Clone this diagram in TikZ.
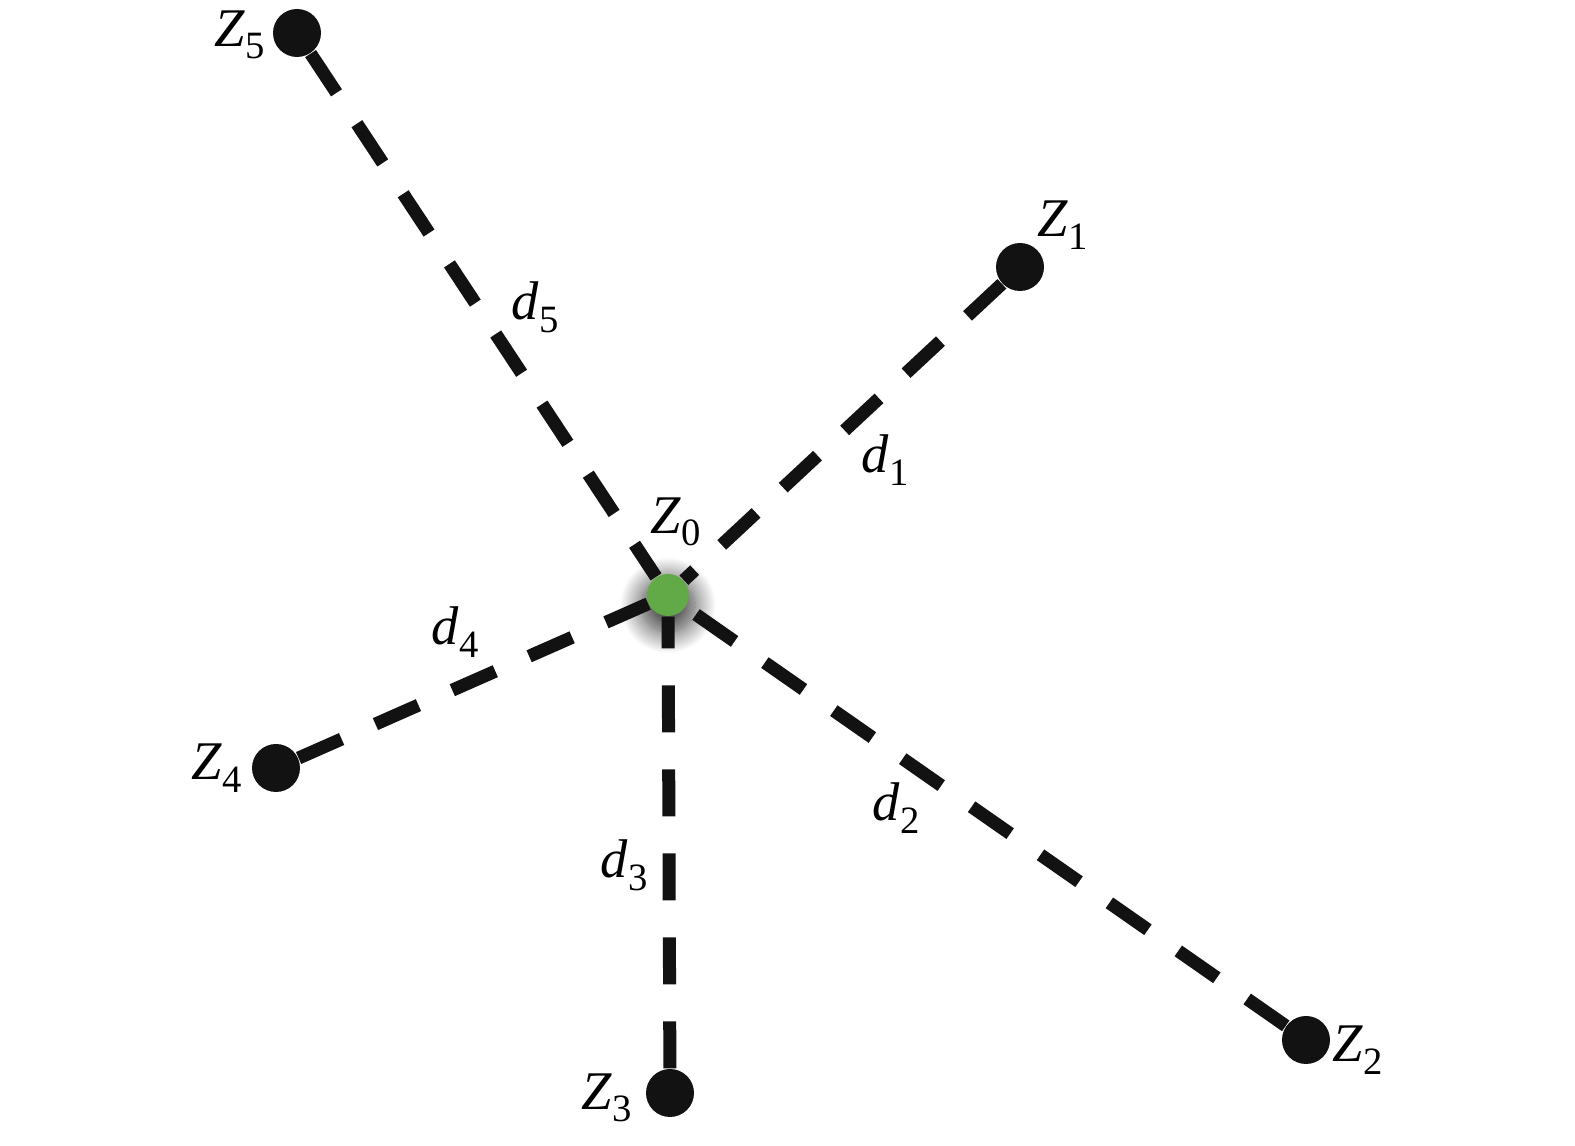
\documentclass[tikz,border=0pt]{standalone}
\usepackage{fontspec}
\setmainfont{Liberation Serif}
\usetikzlibrary{shadows.blur}
\definecolor{zgreen}{RGB}{98,170,72}
\newcommand{\pnt}[2]{\textit{#1}\raisebox{-3.6pt}{\fontsize{11}{11}\selectfont #2}}
\begin{document}
\begin{tikzpicture}[
  pt/.style={circle,fill=black!93,inner sep=0pt,minimum size=0.48cm},
  link/.style={line width=0.13cm,color=black!93,dash pattern=on 0.47cm off 0.37cm},
  lbl/.style={font=\fontsize{15.5}{18}\selectfont,inner sep=0pt}]
\useasboundingbox (0,0) rectangle (15.75,11.46);
% end points
\node[pt](z1) at (10.20,8.79){};
\node[pt](z2) at (13.06,1.06){};
\node[pt](z3) at (6.70,0.53){};
\node[pt](z4) at (2.76,3.78){};
\node[pt](z5) at (2.97,11.13){};
\node[circle,fill=zgreen,inner sep=0pt,minimum size=0.42cm,
  blur shadow={shadow xshift=0pt,shadow yshift=-0.08cm,shadow scale=1.3,
  shadow blur radius=0.16cm,shadow blur steps=20,shadow opacity=75}](z0) at (6.68,5.51){};
% distances
\draw[link](z1)--(z0);
\draw[link](z2)--(z0);
\draw[link](z3)--(z0);
\draw[link](z4)--(z0);
\draw[link](z5)--(z0);
% labels
\node[lbl](lz0) at (6.76,6.24){\pnt{Z}{0}};
\node[lbl](lz1) at (10.63,9.21){\pnt{Z}{1}};
\node[lbl](lz2) at (13.58,0.96){\pnt{Z}{2}};
\node[lbl](lz3) at (6.07,0.48){\pnt{Z}{3}};
\node[lbl](lz4) at (2.17,3.78){\pnt{Z}{4}};
\node[lbl](lz5) at (2.40,11.11){\pnt{Z}{5}};
\node[lbl](ld1) at (8.85,6.86){\pnt{d}{1}};
\node[lbl](ld2) at (8.96,3.38){\pnt{d}{2}};
\node[lbl](ld3) at (6.24,2.81){\pnt{d}{3}};
\node[lbl](ld4) at (4.55,5.14){\pnt{d}{4}};
\node[lbl](ld5) at (5.35,8.39){\pnt{d}{5}};
\end{tikzpicture}
\end{document}
